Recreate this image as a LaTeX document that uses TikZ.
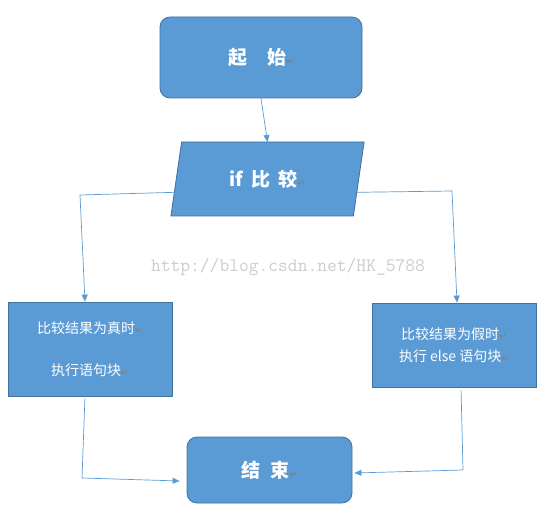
\documentclass[tikz,border=0pt]{standalone}
\usepackage{fontspec}
\usepackage{tikz}
\usetikzlibrary{shapes.geometric, arrows.meta, positioning, calc}

\newfontfamily\cjk{Noto Sans CJK SC}
\newfontfamily\retfont{DejaVu Sans}
\definecolor{boxblue}{HTML}{5B9BD5}
\definecolor{boxline}{HTML}{41719C}
\definecolor{flowblue}{HTML}{5B9BD5}
\definecolor{retgray}{HTML}{7F7F7F}
\newcommand{\retmark}{{\retfont\fontsize{9}{9}\selectfont\textcolor{retgray}{↵}}}

\begin{document}
\begin{tikzpicture}[
    x=1pt, y=-1pt,
    >={Triangle[length=7pt, width=6pt]},
    termnode/.style={draw=boxline, fill=boxblue, rounded corners=10pt, line width=0.8pt, inner sep=0pt, text=white, font=\cjk\fontsize{19}{19}\selectfont\bfseries},
    decnode/.style={draw=boxline, fill=boxblue, trapezium, trapezium left angle=75.6, trapezium right angle=104.4, trapezium stretches=true, line width=0.8pt, inner sep=0pt, outer sep=0pt, text=white, font=\cjk\fontsize{19}{19}\selectfont\bfseries},
    blknode/.style={draw=boxline, fill=boxblue, rectangle, line width=0.8pt, inner sep=0pt, text=white, align=center, font=\cjk\fontsize{14}{22}\selectfont},
    flow/.style={->, line width=0.7pt, flowblue},
    wmark/.style={font=\ttfamily\fontsize{19}{19}\selectfont, text=black!20}
]
    \useasboundingbox (0,0) rectangle (558,511);

    \node[wmark]    (WMark)    at (288,267)   {http://blog.csdn.net/HK\_5788};

    \node[termnode, minimum width=202pt, minimum height=81pt] (Start) at (261,57.5) {起\hspace{1.05em}始\retmark};
    \node[decnode, minimum width=195pt, minimum height=74pt]  (Cmp)   at (267.5,179) {if\hspace{0.4em}比\hspace{0.45em}较\retmark};
    \node[blknode, minimum width=164pt, minimum height=94pt, font=\cjk\fontsize{14}{21}\selectfont] (TrueBlk) at (90,349) {比较结果为真时\retmark\\[21pt]执行语句块\retmark};
    \node[blknode, minimum width=164pt, minimum height=84pt]  (FalseBlk) at (454,345) {比较结果为假时\retmark\\执行 {\cjk else} 语句块\retmark};
    \node[termnode, minimum width=165pt, minimum height=66pt] (End)   at (269.5,470) {结\hspace{0.5em}束\retmark};

    % corner points of the connectors
    \coordinate (CmpL) at ($(Cmp.bottom left corner)!0.32!(Cmp.top left corner)$);
    \coordinate (CmpR) at ($(Cmp.bottom right corner)!0.32!(Cmp.top right corner)$);
    \coordinate (TL) at (80,195);
    \coordinate (TR) at (452,191);
    \coordinate (BL) at (82,478);
    \coordinate (BR) at (463,470);

    \draw[flow] (Start.south) -- (Cmp.north);
    \draw[flow] (CmpL) -- (TL) -- ([xshift=-5pt]TrueBlk.north);
    \draw[flow] (CmpR) -- (TR) -- ([xshift=3pt]FalseBlk.north);
    \draw[flow, shorten <=2pt] ([xshift=-5pt]TrueBlk.south) -- (BL) -- ([xshift=-7pt, yshift=-11pt]End.west);
    \draw[flow, shorten <=3pt] ([xshift=7pt]FalseBlk.south) -- (BR) -- ([xshift=2pt, yshift=-3pt]End.east);

\end{tikzpicture}
\end{document}
